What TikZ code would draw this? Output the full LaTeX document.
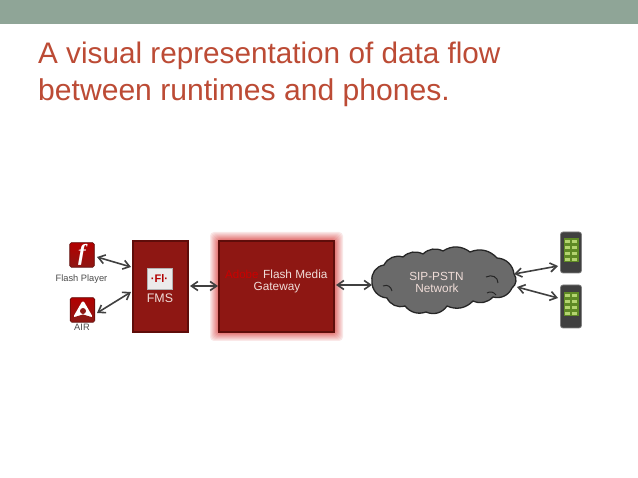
\documentclass[tikz,border=0pt]{standalone}
\usepackage{fontspec}
\setmainfont{Liberation Sans}
\newfontfamily\serifit{Liberation Serif}
\usetikzlibrary{arrows.meta}
\definecolor{band}{HTML}{8FA597}
\definecolor{titlec}{HTML}{BC4B35}
\definecolor{boxred}{HTML}{8E1713}
\definecolor{boxedge}{HTML}{5F0D0A}
\definecolor{labelc}{HTML}{F0DDD8}
\definecolor{cloudc}{HTML}{6A6A6A}
\definecolor{glowc}{HTML}{D9403F}
\definecolor{scr}{HTML}{5F8A25}
\definecolor{keyc}{HTML}{B4D470}
\tikzset{
  x=1pt,y=-1pt,
  titletext/.style={anchor=west,inner sep=0,text=titlec,font=\fontsize{29.7}{36}\selectfont},
  redbox/.style={draw=boxedge,line width=1.6pt,fill=boxred,anchor=north west,inner sep=0,outer sep=0},
  boxlabel/.style={inner sep=0,text=labelc,align=center,font=\fontsize{11.8}{12}\selectfont},
  smalllabel/.style={inner sep=0,text=black!70,font=\fontsize{9.3}{10}\selectfont},
  icon/.style={rounded corners=1.5pt,draw=boxedge,line width=.7pt,top color=red!70!black,bottom color=boxred,minimum size=24.5pt,inner sep=0},
  link/.style={draw=black!75,line width=1.6pt,{Straight Barb[length=6.5pt,width=9pt]}-{Straight Barb[length=6.5pt,width=9pt]}},
  handset/.style={fill=black!75,draw=black!50,line width=.7pt,rounded corners=2.5pt,minimum width=21pt,inner sep=0},
  screen/.style={fill=scr,draw=none,minimum width=15pt,minimum height=24pt,inner sep=0},
}
\begin{document}
\begin{tikzpicture}
\useasboundingbox (0,0) rectangle (638,478);
\fill[white] (0,0) rectangle (638,478);
\fill[band] (0,0) rectangle (638,24.5);
\node[titletext] (t1) at (38,56) {A visual representation of data flow};
\node[titletext,font=\fontsize{30.1}{36}\selectfont] (t2) at (38,93) {between runtimes and phones.};

% gateway glow
\foreach \g/\o in {8/12,7/20,6/28,5/36,4/44,3/52,2/60,1/68}
  \fill[glowc!\o!white,rounded corners=4pt] (218-\g,240-\g) rectangle (335+\g,333+\g);

\node[redbox,minimum width=55.4pt,minimum height=91.4pt] (fms) at (132.8,240.8) {};
\node[redbox,minimum width=115.4pt,minimum height=91.4pt] (gw) at (218.8,240.8) {};

% Fl logo
\node[fill=black!8,draw=black!30,line width=.6pt,minimum width=25pt,minimum height=21pt,inner sep=0,text=red!70!black,font=\bfseries\fontsize{11}{11}\selectfont] (fl) at (159.5,279) {·Fl·};
\node[boxlabel,font=\fontsize{12.4}{13}\selectfont] (fmslabel) at (160,298) {FMS};

\node[inner sep=0,anchor=west,text=red!80!black,font=\fontsize{11.5}{12}\selectfont] (adobe) at (225,274.5) {Adobe};
\node[boxlabel,anchor=west] (gwl1) at (263,274) {Flash Media};
\node[boxlabel] (gwl2) at (277,288) {Gateway};

% runtime icons
\node[icon] (flash) at (82,255) {};
\node[inner sep=0,text=white,font=\serifit\itshape\bfseries\fontsize{23}{24}\selectfont] (flashf) at (82,255) {f};
\node[smalllabel] (flashlabel) at (81.5,279) {Flash Player};
\node[icon] (air) at (82.5,310) {};
\fill[white,draw=white,line width=3pt,line join=round] (83,303) -- (75.5,316) -- (90.5,316) -- cycle;
\node[circle,fill=boxred,minimum size=6pt,inner sep=0] (airdot) at (83,311) {};
\fill[boxred] (73,317.5) -- (83,314.5) -- (93,317.5) -- (93,320) -- (73,320) -- cycle;
\node[smalllabel] (airlabel) at (82,327.5) {AIR};

% cloud
\coordinate (cloud) at (443,281);
\filldraw[fill=cloudc,draw=black!85,line width=1.3pt,line join=round]
  (372,281) to[bend left=45] (384,265) to[bend left=40] (403,257) to[bend left=35] (423,254)
  to[bend left=35] (443,251) to[bend left=35] (470,252) to[bend left=35] (497,258)
  to[bend left=40] (514,274) to[bend left=45] (512,288) to[bend left=40] (493,297)
  to[bend left=35] (473,301) to[bend left=35] (447,306) to[bend left=40] (426,312)
  to[bend left=35] (405,306) to[bend left=40] (387,298) to[bend left=45] (372,281) -- cycle;
\node[boxlabel] (sip) at (436.5,276) {SIP-PSTN};
\node[boxlabel] (net) at (437,288) {Network};
\draw[black!85,line width=1pt] (383,286) .. controls (388,284) and (391,287) .. (392,291)
  (486,277) .. controls (492,274) and (498,277) .. (498,283)
  (487,293) .. controls (490,291) and (494,292) .. (496,295);

% phones
\node[handset,minimum height=41pt] (ph1) at (571,252.5) {};
\node[screen] (sc1) at (571,250.5) {};
\node[handset,minimum height=43pt] (ph2) at (571,306.5) {};
\node[screen] (sc2) at (571,304.5) {};
\foreach \d in {-9,-3,3,9}{
  \fill[keyc] (565,249.5+\d) rectangle (570,252+\d);
  \fill[keyc] (572,249.5+\d) rectangle (577,252+\d);
  \fill[keyc] (565,303.5+\d) rectangle (570,306+\d);
  \fill[keyc] (572,303.5+\d) rectangle (577,306+\d);
}

% connector ends
\coordinate (flashE) at (97,257);
\coordinate (fmsA) at (131,267);
\coordinate (airE) at (97,313);
\coordinate (fmsB) at (131,292);
\coordinate (fmsC) at (190,286);
\coordinate (gwW) at (218,286);
\coordinate (gwE) at (336,285);
\coordinate (clW) at (372,285);
\coordinate (clA) at (514,274);
\coordinate (phA) at (558,266);
\coordinate (clB) at (517,287);
\coordinate (phB) at (558,298);
\draw[link] (flashE) -- (fmsA);
\draw[link] (airE) -- (fmsB);
\draw[link] (fmsC) -- (gwW);
\draw[link] (gwE) -- (clW);
\draw[link] (clA) -- (phA);
\draw[link] (clB) -- (phB);
\end{tikzpicture}
\end{document}
